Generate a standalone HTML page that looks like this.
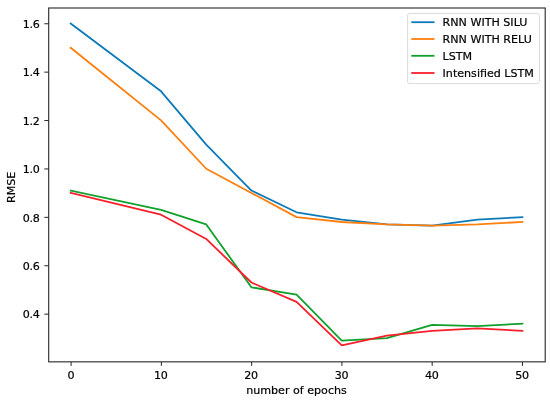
<!DOCTYPE html>
<html><head><meta charset="utf-8"><title>RMSE vs number of epochs</title>
<style>
html,body{margin:0;padding:0;background:#fff;}
svg{display:block;}
text{font-family:"DejaVu Sans","Liberation Sans",sans-serif;font-size:11.1px;fill:#000;stroke:#000;stroke-width:0.2px;}
</style></head><body>
<svg width="550" height="401" viewBox="0 0 550 401">
<rect x="0" y="0" width="550" height="401" fill="#ffffff"/>
<polyline points="70.70,23.55 161.05,91.31 206.23,144.55 251.40,190.53 296.57,212.31 341.75,219.57 386.93,224.41 432.10,225.62 477.27,219.57 522.45,217.15" fill="none" stroke="#0c7ab9" stroke-width="1.80" stroke-linecap="square" stroke-linejoin="round"/>
<polyline points="70.70,47.75 161.05,120.35 206.23,168.75 251.40,192.95 296.57,217.15 341.75,221.99 386.93,224.41 432.10,225.62 477.27,224.41 522.45,221.99" fill="none" stroke="#ff7f0e" stroke-width="1.80" stroke-linecap="square" stroke-linejoin="round"/>
<polyline points="70.70,190.53 161.05,209.89 206.23,224.41 251.40,287.33 296.57,294.59 341.75,340.57 386.93,338.15 432.10,324.84 477.27,326.05 522.45,323.63" fill="none" stroke="#10a12c" stroke-width="1.80" stroke-linecap="square" stroke-linejoin="round"/>
<polyline points="70.70,192.95 161.05,214.73 206.23,238.93 251.40,282.49 296.57,301.85 341.75,345.41 386.93,335.73 432.10,330.89 477.27,328.47 522.45,330.89" fill="none" stroke="#f81f2a" stroke-width="1.80" stroke-linecap="square" stroke-linejoin="round"/>
<rect x="48.70" y="8.00" width="496.50" height="353.85" fill="none" stroke="#262626" stroke-width="1.1"/>
<line x1="71.10" y1="361.85" x2="71.10" y2="365.90" stroke="#262626" stroke-width="1.0"/>
<text x="71.00" y="378.55" text-anchor="middle" letter-spacing="-0.3">0</text>
<line x1="161.37" y1="361.85" x2="161.37" y2="365.90" stroke="#262626" stroke-width="1.0"/>
<text x="160.87" y="378.55" text-anchor="middle" letter-spacing="-0.3">10</text>
<line x1="251.64" y1="361.85" x2="251.64" y2="365.90" stroke="#262626" stroke-width="1.0"/>
<text x="251.14" y="378.55" text-anchor="middle" letter-spacing="-0.3">20</text>
<line x1="341.91" y1="361.85" x2="341.91" y2="365.90" stroke="#262626" stroke-width="1.0"/>
<text x="341.41" y="378.55" text-anchor="middle" letter-spacing="-0.3">30</text>
<line x1="432.18" y1="361.85" x2="432.18" y2="365.90" stroke="#262626" stroke-width="1.0"/>
<text x="431.68" y="378.55" text-anchor="middle" letter-spacing="-0.3">40</text>
<line x1="522.45" y1="361.85" x2="522.45" y2="365.90" stroke="#262626" stroke-width="1.0"/>
<text x="521.95" y="378.55" text-anchor="middle" letter-spacing="-0.3">50</text>
<line x1="44.30" y1="314.15" x2="48.70" y2="314.15" stroke="#262626" stroke-width="1.0"/>
<text x="39.45" y="318.45" text-anchor="end" letter-spacing="-0.35">0.4</text>
<line x1="44.30" y1="265.75" x2="48.70" y2="265.75" stroke="#262626" stroke-width="1.0"/>
<text x="39.45" y="270.05" text-anchor="end" letter-spacing="-0.35">0.6</text>
<line x1="44.30" y1="217.35" x2="48.70" y2="217.35" stroke="#262626" stroke-width="1.0"/>
<text x="39.45" y="221.65" text-anchor="end" letter-spacing="-0.35">0.8</text>
<line x1="44.30" y1="168.95" x2="48.70" y2="168.95" stroke="#262626" stroke-width="1.0"/>
<text x="39.45" y="173.25" text-anchor="end" letter-spacing="-0.35">1.0</text>
<line x1="44.30" y1="120.55" x2="48.70" y2="120.55" stroke="#262626" stroke-width="1.0"/>
<text x="39.45" y="124.85" text-anchor="end" letter-spacing="-0.35">1.2</text>
<line x1="44.30" y1="72.15" x2="48.70" y2="72.15" stroke="#262626" stroke-width="1.0"/>
<text x="39.45" y="76.45" text-anchor="end" letter-spacing="-0.35">1.4</text>
<line x1="44.30" y1="23.75" x2="48.70" y2="23.75" stroke="#262626" stroke-width="1.0"/>
<text x="39.45" y="28.05" text-anchor="end" letter-spacing="-0.35">1.6</text>
<text x="296.5" y="393.6" text-anchor="middle">number of epochs</text>
<text transform="translate(15.0,187.4) rotate(-90)" text-anchor="middle">RMSE</text>
<rect x="407.6" y="13.4" width="131.8" height="70.2" rx="2.2" ry="2.2" fill="#ffffff" fill-opacity="0.8" stroke="#cccccc" stroke-opacity="0.8" stroke-width="0.9"/>
<line x1="412.2" y1="22.20" x2="433.6" y2="22.20" stroke="#0c7ab9" stroke-width="1.80" stroke-linecap="square"/>
<text x="442.6" y="26.10">RNN WITH SILU</text>
<line x1="412.2" y1="39.00" x2="433.6" y2="39.00" stroke="#ff7f0e" stroke-width="1.80" stroke-linecap="square"/>
<text x="442.6" y="42.90">RNN WITH RELU</text>
<line x1="412.2" y1="55.80" x2="433.6" y2="55.80" stroke="#10a12c" stroke-width="1.80" stroke-linecap="square"/>
<text x="442.6" y="59.70">LSTM</text>
<line x1="412.2" y1="73.00" x2="433.6" y2="73.00" stroke="#f81f2a" stroke-width="1.80" stroke-linecap="square"/>
<text x="442.6" y="76.90">Intensified LSTM</text>
</svg>
</body></html>
